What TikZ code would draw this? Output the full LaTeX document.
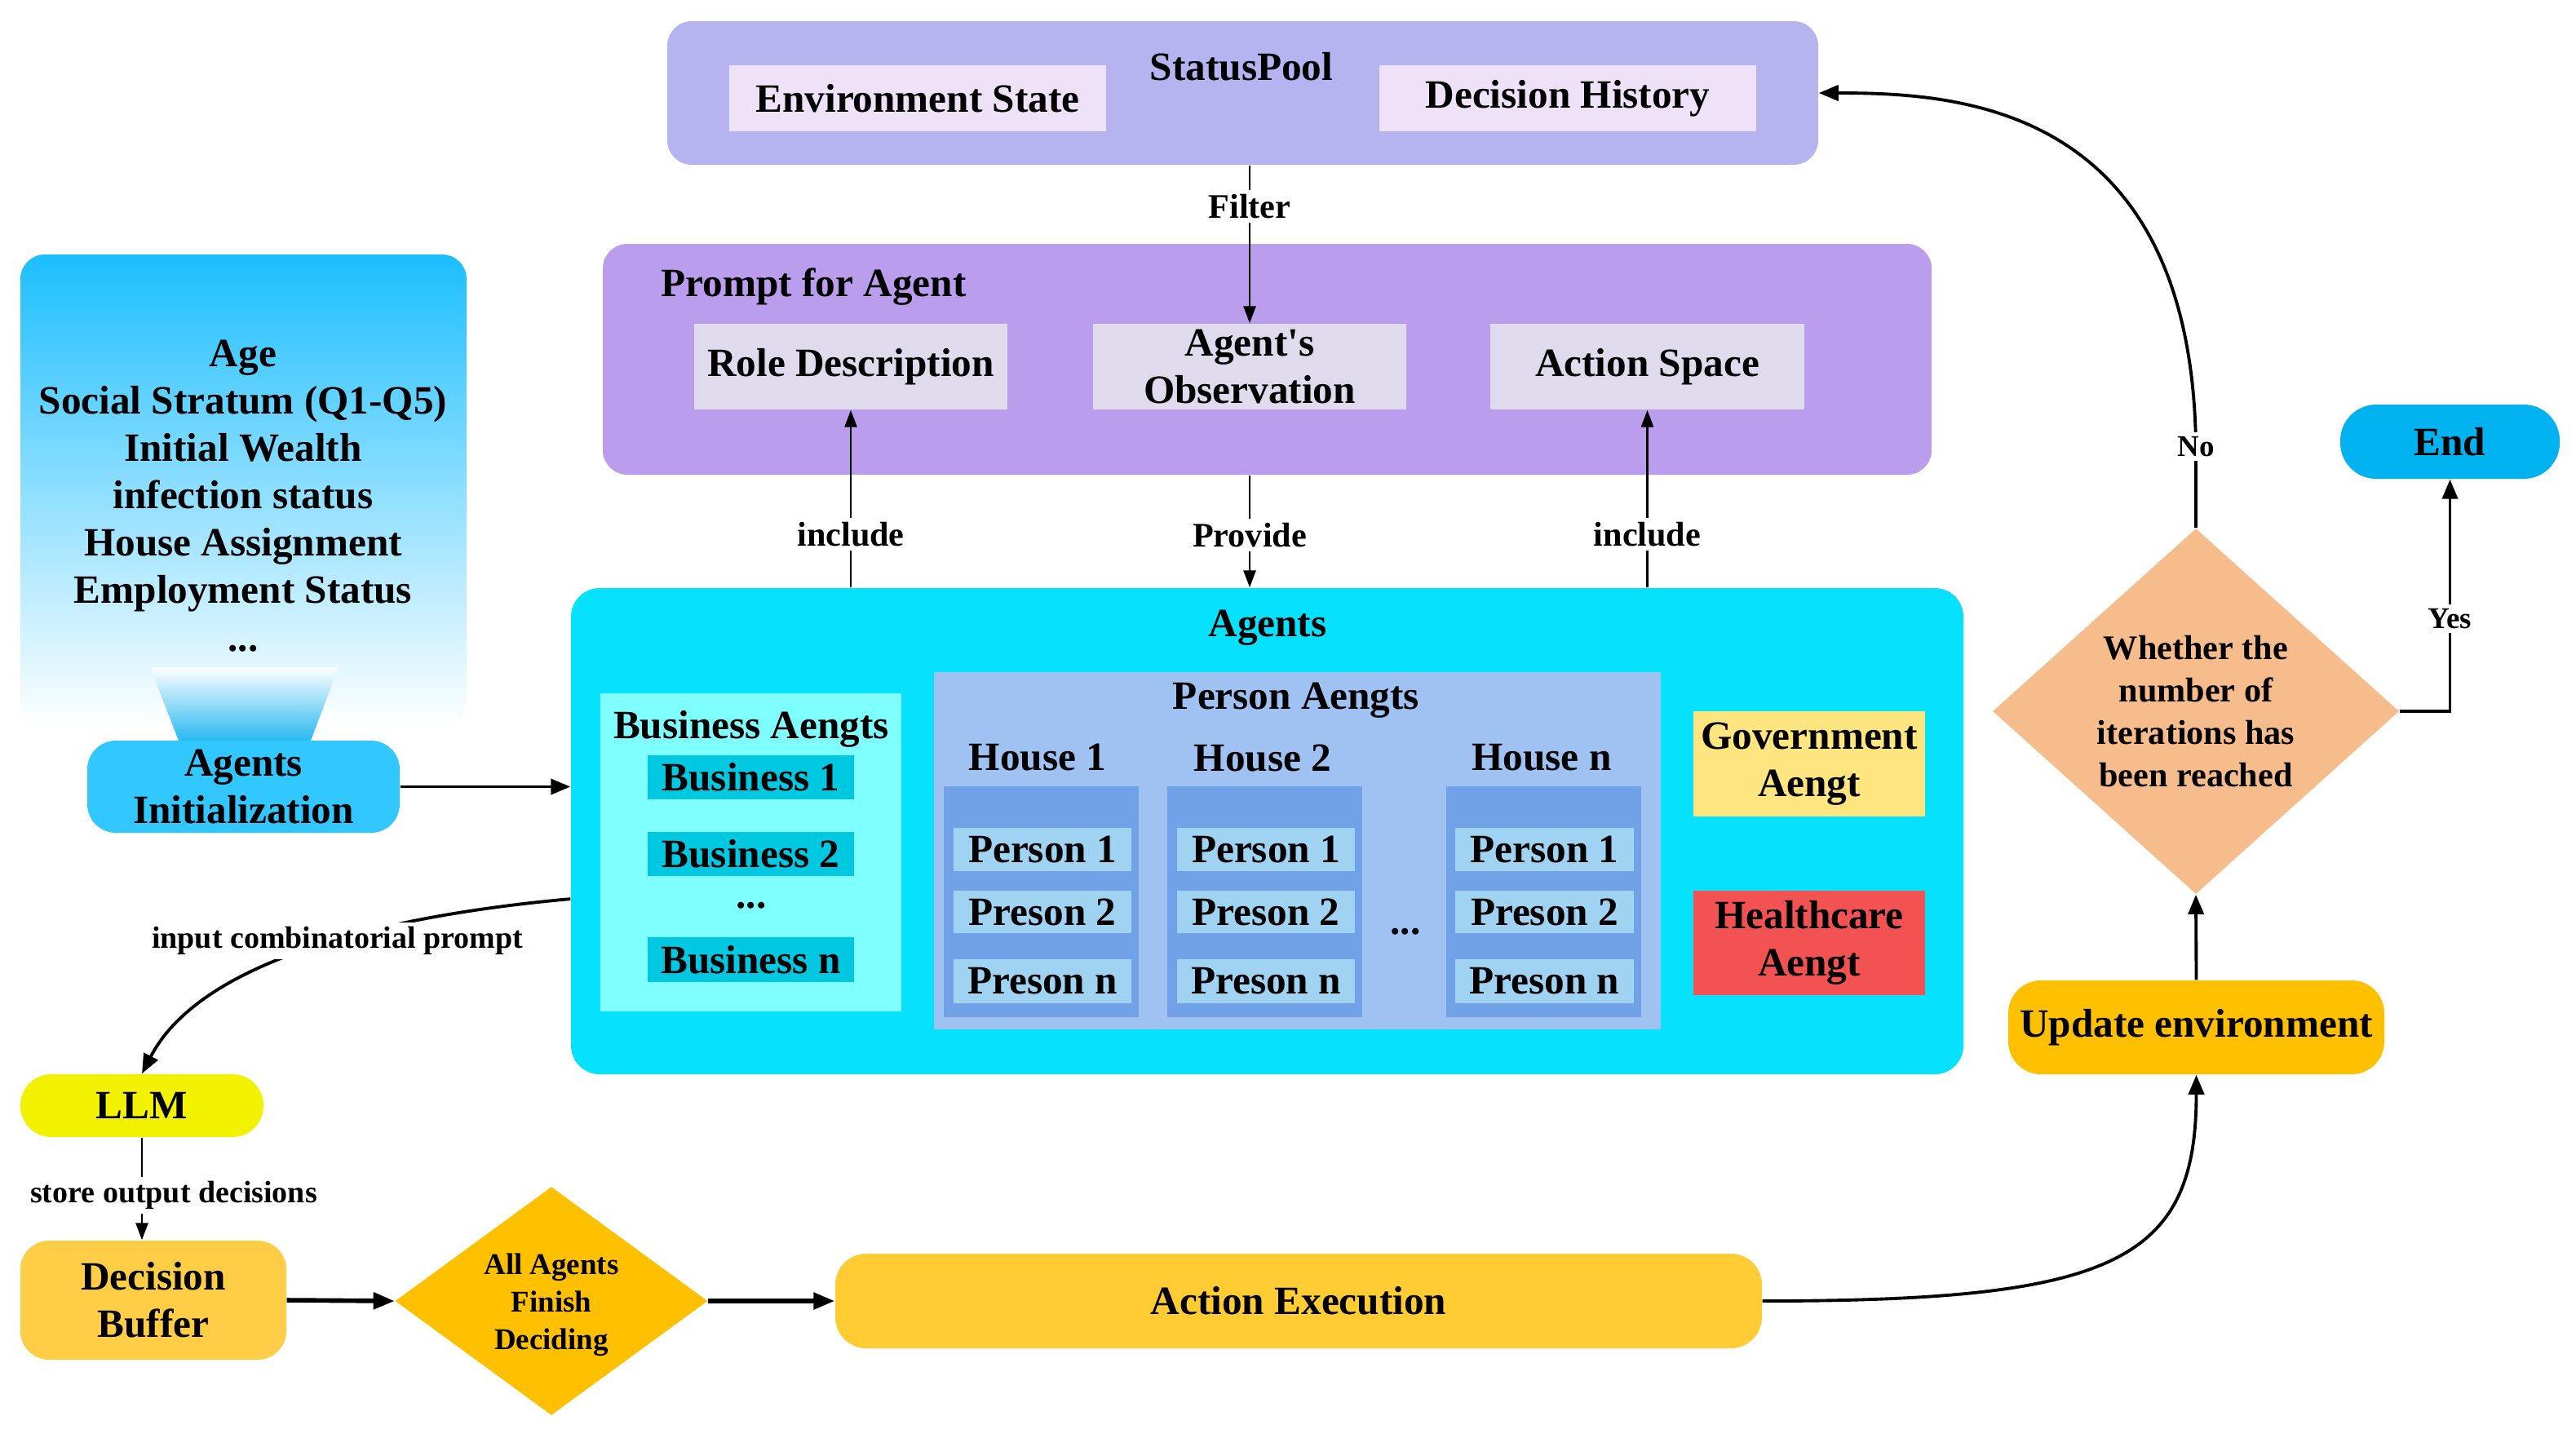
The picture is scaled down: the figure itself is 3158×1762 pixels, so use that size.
\documentclass[tikz,border=0pt]{standalone}
\usepackage{fontspec}
\setmainfont{Liberation Serif}
\usetikzlibrary{fit,shapes.geometric,arrows.meta}
\definecolor{spc}{RGB}{182,180,240}
\definecolor{lavc}{RGB}{238,226,248}
\definecolor{pac}{RGB}{186,157,236}
\definecolor{pic}{RGB}{223,219,236}
\definecolor{agc}{RGB}{6,226,253}
\definecolor{bbc}{RGB}{128,255,255}
\definecolor{bic}{RGB}{0,200,225}
\definecolor{pbc}{RGB}{160,194,242}
\definecolor{hcol}{RGB}{113,162,232}
\definecolor{ppc}{RGB}{160,210,242}
\definecolor{gvc}{RGB}{255,229,128}
\definecolor{hcc}{RGB}{243,82,82}
\definecolor{attrtop}{RGB}{28,190,255}
\definecolor{aic}{RGB}{50,200,255}
\definecolor{func}{RGB}{40,185,240}
\definecolor{llmc}{RGB}{242,242,0}
\definecolor{dbc}{RGB}{255,206,70}
\definecolor{ddc}{RGB}{255,192,0}
\definecolor{aec}{RGB}{255,204,51}
\definecolor{uec}{RGB}{255,192,0}
\definecolor{wdc}{RGB}{247,188,140}
\definecolor{endc}{RGB}{0,178,240}
% container box without text
\newcommand\cbx[3]{\node[bxbase,#1,fit={#3}] (#2) {};}
% box with centred text
\newcommand\bx[4]{\node[bxbase,#1,fit={#3}] (#2) {};\node[bxtext] (#2t) at (#2.center) {#4};}
\begin{document}
\begin{tikzpicture}[x=0.01cm,y=-0.01cm,
  font=\bfseries\fontsize{14}{16.5}\selectfont,
  bxbase/.style={inner sep=0pt},
  bxtext/.style={inner sep=0pt,align=center},
  arr/.style={-{Triangle[length=0.21cm,width=0.15cm]},line width=0.8pt},
  curvearr/.style={-{Triangle[length=0.24cm,width=0.19cm]},line width=1.1pt},
  thickarr/.style={-{Triangle[length=0.26cm,width=0.2cm]},line width=1.6pt},
  lblA/.style={fill=white,inner sep=1.5pt,font=\bfseries\fontsize{12}{14}\selectfont},
  lblB/.style={fill=white,inner sep=1.5pt,font=\bfseries\fontsize{10.8}{13}\selectfont},
  lblC/.style={fill=white,inner sep=1.5pt,font=\bfseries\fontsize{10.5}{13}\selectfont},
  title/.style={inner sep=0pt}
]
\useasboundingbox (0,0) rectangle (3158,1762);

% ---- StatusPool
\cbx{fill=spc,rounded corners=0.3cm}{sp}{(818,26) (2229,202)}
\node[title] (sptitle) at (1522,82) {StatusPool};
\bx{fill=lavc}{es}{(894,80) (1356,161)}{Environment State}
\bx{fill=lavc}{dh}{(1691,80) (2153,161)}{Decision History}

% ---- Prompt for Agent
\cbx{fill=pac,rounded corners=0.3cm}{pa}{(739,299) (2368,582)}
\node[title,anchor=west] (patitle) at (810,352) {Prompt for Agent};
\bx{fill=pic}{rd}{(851,397) (1235,502)}{Role Description}
\bx{fill=pic}{ao}{(1340,397) (1724,502)}{Agent\textquotesingle s\\Observation}
\bx{fill=pic}{as}{(1827,397) (2212,502)}{Action Space}

% ---- Agents
\cbx{fill=agc,rounded corners=0.35cm}{ag}{(700,721) (2407,1317)}
\node[title] (agtitle) at (1554,770) {Agents};

\cbx{fill=bbc}{bb}{(736,850) (1105,1240)}
\node[title] (bbtitle) at (921,894) {Business Aengts};
\bx{fill=bic}{b1}{(794,926) (1047,980)}{Business 1}
\bx{fill=bic}{b2}{(794,1020) (1047,1074)}{Business 2}
\node[title] (bdots) at (921,1110) {...};
\bx{fill=bic}{bn}{(794,1149) (1047,1204)}{Business n}

\cbx{fill=pbc}{pb}{(1145,824) (2036,1262)}
\node[title] (pbtitle) at (1589,859) {Person Aengts};
\node[title] (hl1) at (1272,929) {House 1};
\node[title] (hl2) at (1548,929) {House 2};
\node[title] (hl3) at (1890,929) {House n};
\cbx{fill=hcol}{h1}{(1157,964) (1396,1247)}
\cbx{fill=hcol}{h2}{(1431,964) (1670,1247)}
\cbx{fill=hcol}{h3}{(1773,964) (2012,1247)}
\bx{fill=ppc}{p11}{(1169,1015) (1387,1068)}{Person 1}
\bx{fill=ppc}{p12}{(1169,1092) (1387,1144)}{Preson 2}
\bx{fill=ppc}{p1n}{(1169,1176) (1387,1230)}{Preson n}
\bx{fill=ppc}{p21}{(1443,1015) (1661,1068)}{Person 1}
\bx{fill=ppc}{p22}{(1443,1092) (1661,1144)}{Preson 2}
\bx{fill=ppc}{p2n}{(1443,1176) (1661,1230)}{Preson n}
\bx{fill=ppc}{p31}{(1784,1015) (2003,1068)}{Person 1}
\bx{fill=ppc}{p32}{(1784,1092) (2003,1144)}{Preson 2}
\bx{fill=ppc}{p3n}{(1784,1176) (2003,1230)}{Preson n}
\node[title] (hdots) at (1723,1142) {...};

\bx{fill=gvc}{gv}{(2076,872) (2360,1001)}{Government\\Aengt}
\bx{fill=hcc}{hc}{(2076,1092) (2360,1220)}{Healthcare\\Aengt}

% ---- left attributes
\cbx{top color=attrtop,bottom color=white,rounded corners=0.3cm}{attrs}{(25,312) (572,890)}
\node[title,align=center] (attrtext) at (298,608) {Age\\Social Stratum (Q1-Q5)\\Initial Wealth\\infection status\\House Assignment\\Employment Status\\...};
\shade[top color=white,bottom color=func] (184,818) -- (415,818) -- (381,908) -- (219,908) -- cycle;
\bx{fill=aic,rounded corners=0.35cm}{ai}{(107,908) (490,1021)}{Agents\\Initialization}

% ---- bottom flow
\bx{fill=llmc,rounded corners=0.38cm}{llm}{(25,1317) (323,1394)}{LLM}
\bx{fill=dbc,rounded corners=0.35cm}{db}{(25,1521) (351,1667)}{Decision\\Buffer}
\node[diamond,fill=ddc,inner sep=0pt,minimum width=3.83cm,minimum height=2.8cm] (dd) at (676,1595) {};
\node[bxtext,font=\bfseries\fontsize{10.5}{13.1}\selectfont] (ddt) at (676,1600) {All Agents\\Finish\\Deciding};
\bx{fill=aec,rounded corners=0.38cm}{ae}{(1024,1537) (2160,1653)}{Action Execution}
\bx{fill=uec,rounded corners=0.4cm}{ue}{(2462,1202) (2923,1317)}{Update environment}
\node[diamond,fill=wdc,inner sep=0pt,minimum width=4.98cm,minimum height=4.48cm] (wd) at (2692,872) {};
\node[bxtext,font=\bfseries\fontsize{12}{14.8}\selectfont] (wdt) at (2692,872) {Whether the\\number of\\iterations has\\been reached};
\bx{fill=endc,rounded corners=0.44cm}{endn}{(2869,496) (3138,587)}{End}

% ---- connectors
\draw[arr] (ao.north |- sp.south) -- node[lblA,pos=0.26]{Filter} (ao.north);
\draw[arr] (rd.south |- ag.north) -- node[lblA,pos=0.3]{include} (rd.south);
\draw[arr] (ao.south |- pa.south) -- node[lblA,pos=0.53]{Provide} (ao.south |- ag.north);
\draw[arr] (as.south |- ag.north) -- node[lblA,pos=0.3]{include} (as.south);
\draw[curvearr] (ai.east) -- (ai.east -| ag.west);
\draw[curvearr] ([yshift=-0.83cm]ag.west) .. controls +(-200,18) and +(76,-147) .. node[lblB,pos=0.46]{input combinatorial prompt} (llm.north);
\draw[arr] (llm.south) -- node[lblB,pos=0.56,xshift=0.39cm]{store output decisions} (llm.south |- db.north);
\draw[thickarr] (db.east) -- (dd.west);
\draw[thickarr] (dd.east) -- (ae.west);
\draw[curvearr] (ae.east) .. controls +(430,0) and +(0,230) .. (ue.south);
\draw[curvearr] (ue.north) -- (wd.south);
\draw[curvearr] (wd.east) -| node[lblC,pos=0.7]{Yes} (endn.south);
\draw[curvearr] (wd.north) -- ++(0,-100) node[lblC]{No} .. controls +(-5,-420) and +(170,0) .. (sp.east);
\end{tikzpicture}
\end{document}
